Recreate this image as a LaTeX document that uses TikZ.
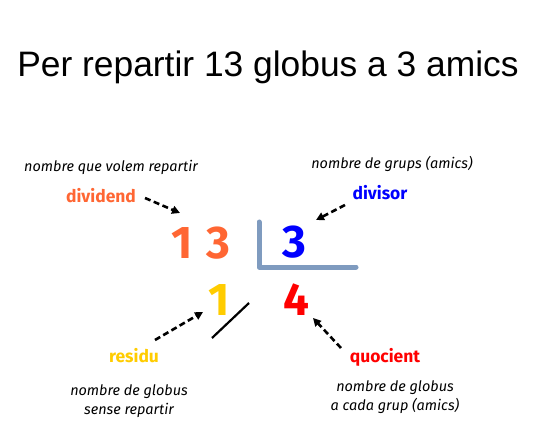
\documentclass[tikz,border=0pt]{standalone}
\usepackage{fontspec}
\setmainfont{Liberation Sans}
\newfontfamily\comic{Fira Sans}
\usetikzlibrary{arrows.meta}
\definecolor{corange}{RGB}{255,102,51}
\definecolor{cblue}{RGB}{0,0,255}
\definecolor{cyellow}{RGB}{255,204,0}
\definecolor{cred}{RGB}{255,0,0}
\definecolor{cbar}{RGB}{127,155,191}
\begin{document}
\begin{tikzpicture}[x=1bp,y=-1bp,
  note/.style={font=\comic\itshape\fontsize{14.5}{19}\selectfont, align=center, inner sep=0pt},
  term/.style={font=\comic\bfseries\fontsize{17.5}{20}\selectfont, inner sep=0pt},
  digit/.style={font=\comic\bfseries\fontsize{46}{50}\selectfont, inner sep=0pt},
  pointer/.style={black, line width=2.6bp, dash pattern=on 6bp off 3.5bp, -{Triangle[length=8bp,width=8bp]}}
]
\useasboundingbox (0,0) rectangle (559,448);
\node[inner sep=0pt, font=\fontsize{35.5}{40}\selectfont] (title) at (268,67) {Per repartir 13 globus a 3 amics};

\node[note] (n1) at (111,167) {nombre que volem repartir};
\node[term, text=corange] (dividend) at (101,196) {dividend};
\node[digit, text=corange] (d1) at (182,243) {1};
\node[digit, text=corange] (d3) at (218,243) {3};

\node[note] (n2) at (392,164) {nombre de grups (amics)};
\node[term, text=cblue] (divisor) at (380,193) {divisor};
\node[digit, text=cblue] (dv) at (294,242) {3};

\coordinate (Ltop) at (259,222);
\coordinate (Lcorner) at (259,267);
\coordinate (Lend) at (356,267);
\draw[cbar, line width=5bp, line cap=round, line join=round] (Ltop) -- (Lcorner) -- (Lend);

\node[digit, text=cyellow] (r) at (219,300) {1};
\node[digit, text=cred] (q) at (296,300) {4};

\coordinate (s1) at (212,338);
\coordinate (s2) at (249,303);
\draw[black, line width=2.2bp] (s1) -- (s2);

\node[term, text=cyellow] (residu) at (134,356) {residu};
\node[note] (n3) at (129,401) {nombre de globus\\sense repartir};

\node[term, text=cred] (quocient) at (385,357) {quocient};
\node[note] (n4) at (395,397) {nombre de globus\\a cada grup (amics)};

\coordinate (a1s) at (145,198);
\coordinate (a1e) at (180,213);
\draw[pointer] (a1s) -- (a1e);
\coordinate (a2s) at (345,205);
\coordinate (a2e) at (316,220);
\draw[pointer] (a2s) -- (a2e);
\coordinate (a3s) at (155,340);
\coordinate (a3e) at (203,312);
\draw[pointer] (a3s) -- (a3e);
\coordinate (a4s) at (341,348);
\coordinate (a4e) at (313,318);
\draw[pointer] (a4s) -- (a4e);
\end{tikzpicture}
\end{document}
